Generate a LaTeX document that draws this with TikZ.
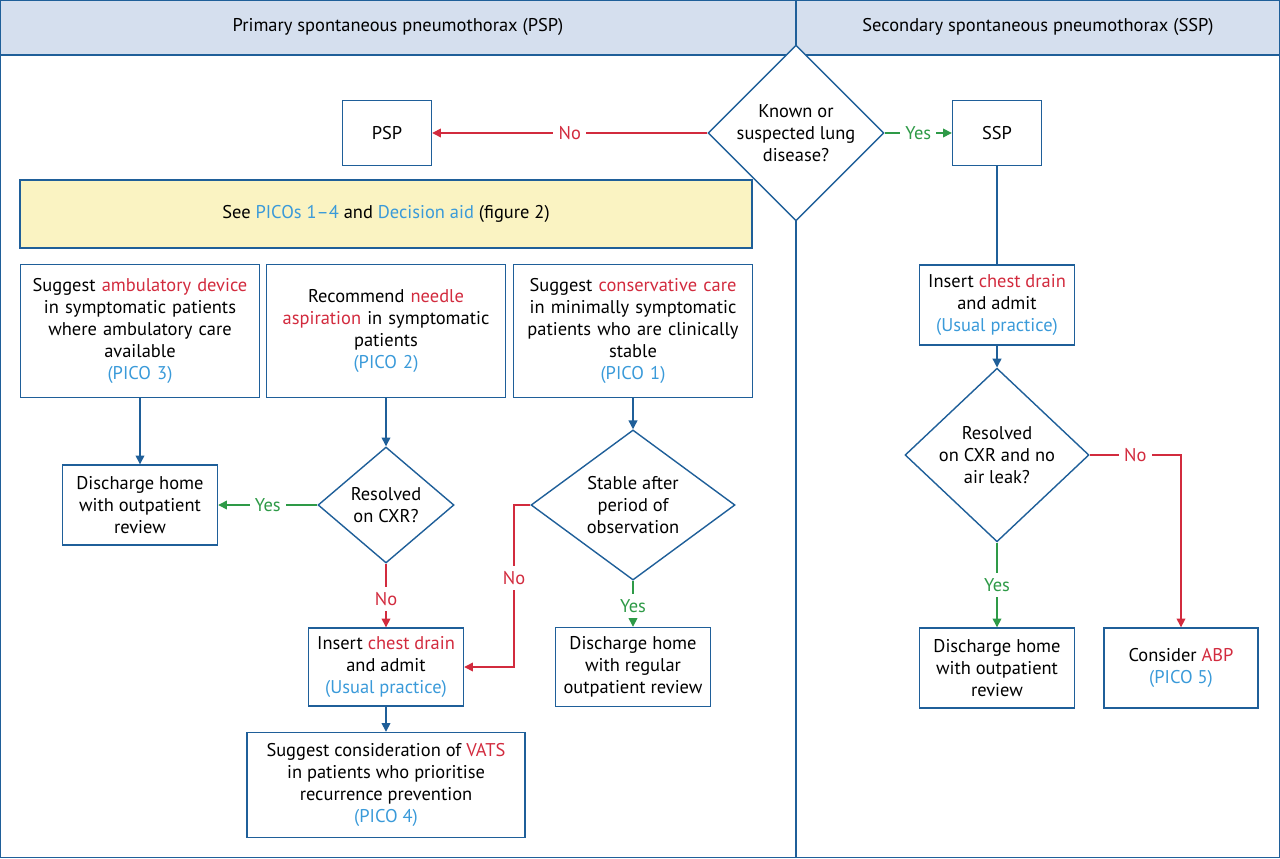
\documentclass[tikz,border=0pt]{standalone}
\usepackage{fontspec}
\setmainfont{PT Sans}
\usetikzlibrary{shapes.geometric,arrows.meta}
\definecolor{frameblue}{HTML}{1F5F99}
\definecolor{headfill}{HTML}{D5DFEE}
\definecolor{notefill}{HTML}{FAF3C2}
\definecolor{nored}{HTML}{D22B3E}
\definecolor{yesgreen}{HTML}{2E9A47}
\definecolor{linkblue}{HTML}{3A9AD9}
\newcommand{\hl}[1]{\textcolor{nored}{#1}}
\newcommand{\lk}[1]{\textcolor{linkblue}{#1}}
\tikzset{
  sz/.style 2 args={minimum width=#1*0.02cm, minimum height=#2*0.02cm},
  tw/.style={text width=#1*0.02cm},
  box/.style={draw=frameblue, thick, align=center, inner sep=2pt},
  dec/.style={draw=frameblue, thick, diamond, align=center, inner sep=0pt},
  flow/.style={frameblue, thick, -{Triangle[length=5pt,width=5pt]}},
  yes/.style={yesgreen, thick, -{Triangle[length=5pt,width=5pt]}},
  no/.style={nored, thick, -{Triangle[length=5pt,width=5pt]}},
  lab/.style={fill=white, inner sep=3pt}
}
\begin{document}
\begin{tikzpicture}[x=0.02cm, y=-0.02cm, font=\fontsize{10.5}{12.6}\selectfont]
    \useasboundingbox (0,0) rectangle (1280,858);
    % frame and header
    \fill[headfill] (0,0) rectangle (1280,55);
    \draw[frameblue, thick] (0.5,0.5) rectangle (1279.5,857.5);
    \draw[frameblue, thick] (0,55) -- (1280,55);
    \draw[frameblue, thick] (796,0) -- (796,858);
    \node at (398,27) {Primary spontaneous pneumothorax (PSP)};
    \node at (1038,27) {Secondary spontaneous pneumothorax (SSP)};

    \node[dec, fill=white, sz={152}{120}] (Q0) at (796,133) {Known or\\suspected lung\\disease?};
    \node[box, sz={89}{65}] (PSP) at (387,133) {PSP};
    \node[box, sz={89}{65}] (SSP) at (997,133) {SSP};
    \node[box, fill=notefill, sz={732}{68}] (NOTE) at (386,214) {See \lk{PICOs 1–4} and \lk{Decision aid} (figure 2)};

    \node[box, tw=225, sz={239}{133}] (A) at (140,331) {Suggest \hl{ambulatory device}\\in symptomatic patients\\where ambulatory care\\available\\\lk{(PICO 3)}};
    \node[box, tw=225, sz={239}{133}] (B) at (386,331) {Recommend \hl{needle}\\\hl{aspiration} in symptomatic\\patients\\\lk{(PICO 2)}\\[12.6pt]};
    \node[box, tw=225, sz={239}{133}] (C) at (633,331) {Suggest \hl{conservative care}\\in minimally symptomatic\\patients who are clinically\\stable\\\lk{(PICO 1)}};

    \node[box, sz={155}{80}] (DH1) at (140,505) {Discharge home\\with outpatient\\review};
    \node[dec, sz={136}{116}] (Q1) at (386,505) {Resolved\\on CXR?};
    \node[dec, sz={204}{114}] (Q2) at (633,505) {Stable after\\period of\\observation};
    \node[box, sz={155}{78}] (CD1) at (386,667) {Insert \hl{chest drain}\\and admit\\\lk{(Usual practice)}};
    \node[box, sz={155}{79}] (DH2) at (633,667) {Discharge home\\with regular\\outpatient review};
    \node[box, sz={278}{105}] (VATS) at (386,785) {Suggest consideration of \hl{VATS}\\in patients who prioritise\\recurrence prevention\\\lk{(PICO 4)}};

    \node[box, sz={155}{80}] (CD2) at (997,305) {Insert \hl{chest drain}\\and admit\\\lk{(Usual practice)}};
    \node[dec, sz={184}{118}] (Q3) at (997,455) {Resolved\\on CXR and no\\air leak?};
    \node[box, sz={155}{80}] (DH3) at (997,668) {Discharge home\\with outpatient\\review};
    \node[box, sz={154}{80}] (ABP) at (1181,668) {Consider \hl{ABP}\\\lk{(PICO 5)}};

    \draw[no] (Q0) -- node[lab] {No} (PSP);
    \draw[yes] (Q0) -- node[lab] {Yes} (SSP);
    \draw[frameblue, thick] (SSP) -- (CD2);
    \draw[flow] (A) -- (DH1);
    \draw[flow] (B) -- (Q1);
    \draw[flow] (C) -- (Q2);
    \draw[yes] (Q1) -- node[lab] {Yes} (DH1);
    \draw[no] (Q1) -- node[lab, pos=0.55] {No} (CD1);
    \draw[no] (Q2.west) -- (514,505) -- node[lab, pos=0.45] {No} (514,667) -- (CD1.east);
    \draw[yes] (Q2) -- node[lab, pos=0.55] {Yes} (DH2);
    \draw[flow] (CD1) -- (VATS);
    \draw[flow] (CD2) -- (Q3);
    \draw[yes] (Q3) -- node[lab, pos=0.5] {Yes} (DH3);
    \draw[no] (Q3.east) -- node[lab] {No} (1181,455) -- (ABP.north);
\end{tikzpicture}
\end{document}
